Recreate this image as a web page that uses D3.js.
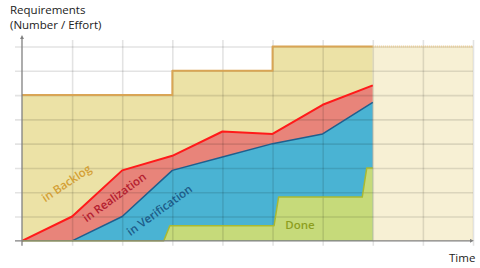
<!DOCTYPE html>
<html>
<head>
<meta charset="utf-8">
<script src="https://cdn.jsdelivr.net/npm/d3@7"></script>
<style>
    body { margin: 0; background: #fff; }
    svg { display: block; font-family: "Open Sans", "Noto Sans", sans-serif; }
</style>
</head>
<body>
<svg></svg>
<script>
// periods on the time axis (0 .. 9), past ends at 7
const periods = [0, 1, 2, 3, 4, 5, 6, 7];
const totalReq = [6, 6, 6, 7, 7, 8, 8, 8];
const inRealization = [0, 1, 2.9, 3.5, 4.5, 4.4, 5.6, 6.4];
const inVerification = [0, 0, 1, 2.9, 3.45, 4, 4.4, 5.7];
const doneT = [0, 2.83, 2.95, 5.03, 5.12, 6.79, 6.88, 7];
const doneV = [0, 0, 0.62, 0.62, 1.8, 1.8, 3, 3];
const forecastT = [7, 9];
const forecastV = [8, 8];
const yTicks = [1, 2, 3, 4, 5, 6, 7, 8];
const xTicks = [1, 2, 3, 4, 5, 6, 7, 8, 9];

const width = 480;
const height = 268;
const leftBorder = 22;
const rightBorder = 7;
const topBorder = 46.5;
const botBorder = 27.2;

const timeScale = d3.scaleLinear()
    .domain([0, 9])
    .range([leftBorder, width - rightBorder]);
const reqScale = d3.scaleLinear()
    .domain([0, 8])
    .range([height - botBorder, topBorder]);

const canvas = d3.select("svg")
    .attr("width", width)
    .attr("height", height);

function zip(ts, vs) {
    return ts.map((t, i) => ({ t: t, v: vs[i] }));
}

function plotArea(data, fill, curve) {
    const area = d3.area()
        .x(d => timeScale(d.t))
        .y0(reqScale(0))
        .y1(d => reqScale(d.v))
        .curve(curve || d3.curveLinear);
    canvas.append("path")
        .datum(data)
        .attr("fill", fill)
        .attr("d", area);
}

function plotLine(data, color, w, curve, dash) {
    const line = d3.line()
        .x(d => timeScale(d.t))
        .y(d => reqScale(d.v))
        .curve(curve || d3.curveLinear);
    canvas.append("path")
        .datum(data)
        .attr("fill", "none")
        .attr("stroke", color)
        .attr("stroke-width", w)
        .attr("stroke-linejoin", "round")
        .attr("stroke-dasharray", dash || null)
        .attr("d", line);
}

const total = zip(periods, totalReq);
const realization = zip(periods, inRealization);
const verification = zip(periods, inVerification);
const done = zip(doneT, doneV);
const forecast = zip(forecastT, forecastV);

plotArea(total, "#ece2a6", d3.curveStepAfter);
plotArea(realization, "#e8847a");
plotArea(verification, "#4ab3d3");
plotArea(done, "#c6da7a");
plotArea(forecast, "#f7f0d4");

// grid
canvas.append("g")
    .attr("class", "grid")
    .attr("transform", "translate(" + leftBorder + ",0)")
    .call(d3.axisLeft(reqScale).tickValues(yTicks).tickSize(-(width - rightBorder - leftBorder)).tickFormat(""))
    .call(g => g.select(".domain").remove())
    .selectAll("line")
    .attr("x1", -7)
    .attr("stroke", "rgba(0,0,0,0.11)")
    .attr("stroke-width", 1.6);
canvas.append("g")
    .attr("class", "grid")
    .attr("transform", "translate(0," + (reqScale(0) + 5) + ")")
    .call(d3.axisBottom(timeScale).tickValues(xTicks).tickSize(-(reqScale(0) + 5 - 40)).tickFormat(""))
    .call(g => g.select(".domain").remove())
    .selectAll("line")
    .attr("stroke", "rgba(0,0,0,0.11)")
    .attr("stroke-width", 1.6);

plotLine(total, "#d9a555", 2, d3.curveStepAfter);
plotLine(forecast, "#e8c98e", 2, d3.curveLinear, "1,1");
plotLine(realization, "#ff1a1a", 2);
plotLine(verification.slice(1), "#1f5f8e", 1.5);
plotLine(done, "#a9b932", 1.5);

// axes with arrows
const defs = canvas.append("defs");
defs.append("marker")
    .attr("id", "arrow")
    .attr("viewBox", "0 0 10 10")
    .attr("refX", 0).attr("refY", 5)
    .attr("markerWidth", 3).attr("markerHeight", 3)
    .attr("orient", "auto")
    .append("path")
    .attr("d", "M0,0L10,5L0,10z")
    .attr("fill", "#808080");
canvas.append("line")
    .attr("x1", timeScale(0)).attr("y1", reqScale(0) + 5)
    .attr("x2", timeScale(0)).attr("y2", 39)
    .attr("stroke", "#808080").attr("stroke-width", 1.3)
    .attr("marker-end", "url(#arrow)");
canvas.append("line")
    .attr("x1", 15).attr("y1", reqScale(0))
    .attr("x2", 470).attr("y2", reqScale(0))
    .attr("stroke", "#808080").attr("stroke-width", 1.3)
    .attr("marker-end", "url(#arrow)");

// titles
canvas.append("text")
    .attr("x", 10).attr("y", 13.5)
    .attr("font-size", 11.5).attr("fill", "#222")
    .text("Requirements");
canvas.append("text")
    .attr("x", 10).attr("y", 29)
    .attr("font-size", 11.5).attr("fill", "#222")
    .text("(Number / Effort)");
canvas.append("text")
    .attr("x", 449).attr("y", 262)
    .attr("font-size", 11.5).attr("fill", "#222")
    .text("Time");

// series labels
function label(txt, x, y, angle, color) {
    canvas.append("text")
        .attr("transform", "translate(" + x + "," + y + ") rotate(" + angle + ")")
        .attr("text-anchor", "middle")
        .attr("dominant-baseline", "middle")
        .attr("font-size", 11.5)
        .attr("font-weight", 600)
        .attr("fill", color)
        .text(txt);
}
label("in Backlog", 67, 184, -34, "#d4a035");
label("in Realization", 115, 198, -36, "#b42030");
label("in Verification", 160, 211, -36, "#1d5b88");
label("Done", 300, 226, 0, "#8d9e20");
</script>
</body>
</html>
